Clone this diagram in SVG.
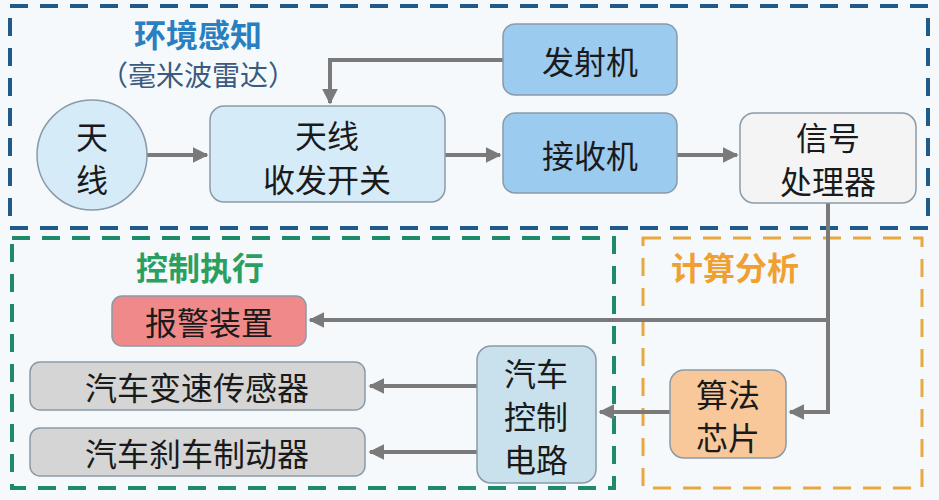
<svg xmlns="http://www.w3.org/2000/svg" width="939" height="500" viewBox="0 0 939 500">
<defs>
<marker id="ah" viewBox="0 0 10 10" refX="9" refY="5" markerWidth="4" markerHeight="4" orient="auto"><path d="M0,0L10,5L0,10z" fill="#7a7a7a"/></marker>
<style>
text{font-family:"Noto Sans CJK SC",sans-serif;text-anchor:middle;dominant-baseline:central;fill:#1a1a1a}
.n{stroke:#8a9aa8;stroke-width:1.5}
.t{font-size:32px}
.c{fill:none;stroke:#7a7a7a;stroke-width:4;marker-end:url(#ah)}
.h{font-size:32px;font-weight:bold}
</style>
</defs>
<rect width="939" height="500" fill="#f6f9fb"/>
<rect x="10" y="6" width="918" height="222" fill="none" stroke="#1f5a8a" stroke-width="4" stroke-dasharray="18,12"/>
<rect x="12" y="238" width="602" height="250" fill="none" stroke="#1f8a6a" stroke-width="4" stroke-dasharray="18,12"/>
<rect x="643" y="238" width="279" height="250" fill="none" stroke="#e8a840" stroke-width="3" stroke-dasharray="18,12"/>
<text x="198" y="33" class="h" style="fill:#2a7fc0">环境感知</text>
<text x="198" y="74" font-size="28" style="fill:#3a5a80">（毫米波雷达）</text>
<text x="200" y="266" class="h" style="fill:#2aa060">控制执行</text>
<text x="735" y="266" class="h" style="fill:#f0a030">计算分析</text>
<g id="connectors">
<path class="c" d="M147,155H207"/>
<path class="c" d="M445,155H500"/>
<path class="c" d="M677,155H737"/>
<path class="c" d="M503,60H330V103"/>
<path class="c" d="M828,203V412H790"/>
<path class="c" d="M828,320H310"/>
<path class="c" d="M670,412H600"/>
<path class="c" d="M477,386H370"/>
<path class="c" d="M477,452H370"/>
</g>
<g id="antenna"><circle cx="92" cy="155" r="55" fill="#d6ebf8" class="n"/><text x="92" y="135" class="t">天</text><text x="92" y="178" class="t">线</text></g>
<g id="switch"><rect x="210" y="106" width="235" height="96" rx="14" fill="#d6ebf8" class="n"/><text x="327" y="134" class="t">天线</text><text x="327" y="178" class="t">收发开关</text></g>
<g id="tx"><rect x="503" y="24" width="174" height="71" rx="12" fill="#9ccbf0" class="n"/><text x="590" y="60" class="t">发射机</text></g>
<g id="rx"><rect x="503" y="113" width="174" height="80" rx="12" fill="#9ccbf0" class="n"/><text x="590" y="154" class="t">接收机</text></g>
<g id="dsp"><rect x="740" y="113" width="176" height="90" rx="14" fill="#f4f4f4" class="n"/><text x="828" y="136" class="t">信号</text><text x="828" y="180" class="t">处理器</text></g>
<g id="alarm"><rect x="112" y="296" width="194" height="50" rx="10" fill="#f08a8a" class="n"/><text x="209" y="321" class="t">报警装置</text></g>
<g id="gear"><rect x="30" y="362" width="335" height="48" rx="10" fill="#d5d5d5" class="n"/><text x="197" y="386" class="t">汽车变速传感器</text></g>
<g id="brake"><rect x="30" y="428" width="335" height="48" rx="10" fill="#d5d5d5" class="n"/><text x="197" y="452" class="t">汽车刹车制动器</text></g>
<g id="ctrl"><rect x="477" y="346" width="119" height="137" rx="14" fill="#c8e1ec" class="n"/><text x="536" y="372" class="t">汽车</text><text x="536" y="415" class="t">控制</text><text x="536" y="458" class="t">电路</text></g>
<g id="chip"><rect x="670" y="370" width="116" height="88" rx="14" fill="#f8c89a" class="n"/><text x="728" y="393" class="t">算法</text><text x="728" y="436" class="t">芯片</text></g>
</svg>
